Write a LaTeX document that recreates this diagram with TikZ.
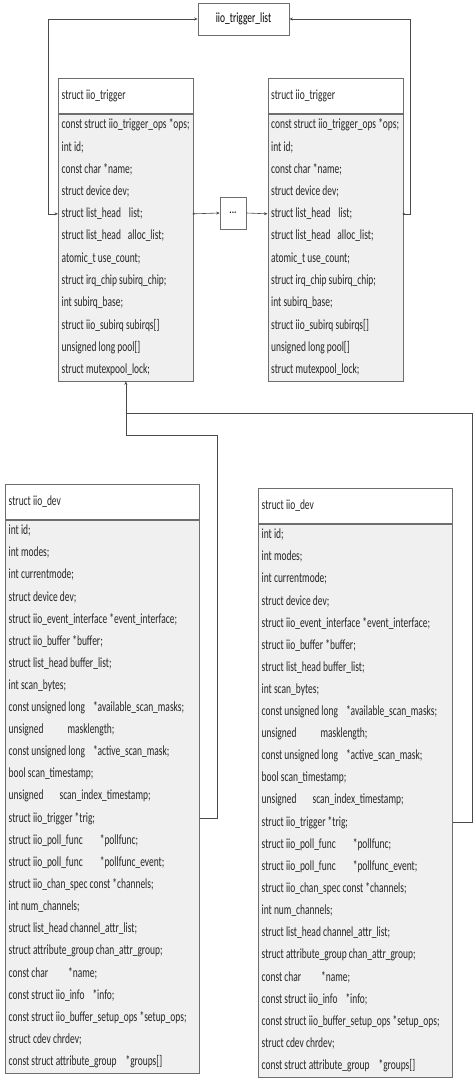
\documentclass[tikz,border=0pt]{standalone}
\usepackage{fontspec}
\setmainfont{Carlito}[FakeStretch=0.675]
\usetikzlibrary{arrows.meta,calc}
\definecolor{boxline}{HTML}{6E6E6E}
\definecolor{bodyfill}{HTML}{F0F0F0}
\definecolor{wire}{HTML}{4A4A4A}
\tikzset{
  hdr/.style={draw=boxline, fill=white, line width=0.7pt, anchor=north west, minimum height=35pt, inner sep=0pt},
  bodyb/.style={draw=boxline, fill=bodyfill, line width=0.7pt, anchor=north west, inner sep=0pt},
  txt/.style={font=\fontsize{14}{16}\selectfont, anchor=west, inner sep=0pt, text=black!85},
  wirestyle/.style={draw=wire, line width=0.6pt},
  tip/.style={-{Stealth[length=3.5pt,width=3pt]}},
  dtip/.style={{Stealth[length=3.5pt,width=3pt]}-{Stealth[length=3.5pt,width=3pt]}},
  smallbox/.style={draw=boxline, fill=white, line width=0.7pt, inner sep=0pt, font=\fontsize{14}{16}\selectfont}
}
\newcommand\gap[1]{\hspace{#1pt}}
% name, x, ytop, width, title, bodyheight, rowstep, rows
\newcommand\mkstruct[8]{%
  \node[hdr, minimum width=#4] (#1-h) at (#2,-#3) {};
  \node[txt] (#1-t) at ($(#1-h.west)+(3.5,0)$) {#5};
  \node[bodyb, minimum width=#4, minimum height=#6] (#1) at (#1-h.south west) {};
  \foreach \r [count=\i] in {#8} {
    \node[txt] (#1-\i) at ($(#1.north west)+(3.5,{-0.5*#7-#7*(\i-1)})$) {\r};
  }%
}
\begin{document}
\begin{tikzpicture}[x=1pt,y=1pt]
\useasboundingbox (0,0) rectangle (474,-1086);
\fill[white] (0,0) rectangle (474,-1086);

\node[smallbox, minimum width=91, minimum height=32] (L) at (243.5,-19) {iio\_trigger\_list};

\mkstruct{lt}{58}{78}{135}{struct iio\_trigger}{267}{22.25}{%
const struct iio\_trigger\_ops *ops;,
int id;,
const char *name;,
struct device dev;,
struct list\_head\gap{8}list;,
struct list\_head\gap{7}alloc\_list;,
atomic\_t use\_count;,
struct irq\_chip subirq\_chip;,
int subirq\_base;,
struct iio\_subirq subirqs[],
unsigned long pool[],
struct mutexpool\_lock;}

\mkstruct{rt}{267.5}{78}{135.5}{struct iio\_trigger}{267}{22.25}{%
const struct iio\_trigger\_ops *ops;,
int id;,
const char *name;,
struct device dev;,
struct list\_head\gap{8}list;,
struct list\_head\gap{7}alloc\_list;,
atomic\_t use\_count;,
struct irq\_chip subirq\_chip;,
int subirq\_base;,
struct iio\_subirq subirqs[],
unsigned long pool[],
struct mutexpool\_lock;}

\node[smallbox, minimum width=26, minimum height=32] (E) at (233,-213) {...};

\mkstruct{ld}{5}{484}{194}{struct iio\_dev}{553}{22.12}{%
int id;,
int modes;,
int currentmode;,
struct device dev;,
struct iio\_event\_interface *event\_interface;,
struct iio\_buffer *buffer;,
struct list\_head buffer\_list;,
int scan\_bytes;,
const unsigned long\gap{8}*available\_scan\_masks;,
unsigned\gap{24}masklength;,
const unsigned long\gap{8}*active\_scan\_mask;,
bool scan\_timestamp;,
unsigned\gap{16}scan\_index\_timestamp;,
struct iio\_trigger *trig;,
struct iio\_poll\_func\gap{17}*pollfunc;,
struct iio\_poll\_func\gap{17}*pollfunc\_event;,
struct iio\_chan\_spec const *channels;,
int num\_channels;,
struct list\_head channel\_attr\_list;,
struct attribute\_group chan\_attr\_group;,
const char\gap{20}*name;,
const struct iio\_info\gap{8}*info;,
const struct iio\_buffer\_setup\_ops *setup\_ops;,
struct cdev chrdev;,
const struct attribute\_group\gap{9}*groups[]}

\mkstruct{rd}{258}{488}{194}{struct iio\_dev}{553}{22.12}{%
int id;,
int modes;,
int currentmode;,
struct device dev;,
struct iio\_event\_interface *event\_interface;,
struct iio\_buffer *buffer;,
struct list\_head buffer\_list;,
int scan\_bytes;,
const unsigned long\gap{8}*available\_scan\_masks;,
unsigned\gap{24}masklength;,
const unsigned long\gap{8}*active\_scan\_mask;,
bool scan\_timestamp;,
unsigned\gap{16}scan\_index\_timestamp;,
struct iio\_trigger *trig;,
struct iio\_poll\_func\gap{17}*pollfunc;,
struct iio\_poll\_func\gap{17}*pollfunc\_event;,
struct iio\_chan\_spec const *channels;,
int num\_channels;,
struct list\_head channel\_attr\_list;,
struct attribute\_group chan\_attr\_group;,
const char\gap{20}*name;,
const struct iio\_info\gap{8}*info;,
const struct iio\_buffer\_setup\_ops *setup\_ops;,
struct cdev chrdev;,
const struct attribute\_group\gap{9}*groups[]}

\coordinate (lbend) at (48,0);
\coordinate (rbend) at (410,0);
\coordinate (busA) at (0,-413);
\coordinate (busB) at (0,-435);
\coordinate (lx) at (217,0);
\coordinate (rx) at (472.5,0);

% linked list of triggers
\draw[wirestyle, dtip] (L.west) -| (lbend |- lt-5) -- (lt.west |- lt-5);
\draw[wirestyle, tip] (lt.east |- lt-5) -- (E.west);
\fill[wire] (lt.east |- lt-5) circle (1.2pt);
\draw[wirestyle, tip] (E.east) -- (rt.west |- rt-5);
\draw[wirestyle, tip] (rt.east |- rt-5) -| (rbend |- L.east) -- (L.east);
\fill[wire] (rt.east |- rt-5) circle (1.2pt);

% devices to trigger
\draw[wirestyle, tip] (ld.east |- ld-14) -| (lx |- busB) -| (lt.south);
\draw[wirestyle] (rd.east |- rd-14) -| (rx |- busA) -- (lt.south |- busA);
\end{tikzpicture}
\end{document}
